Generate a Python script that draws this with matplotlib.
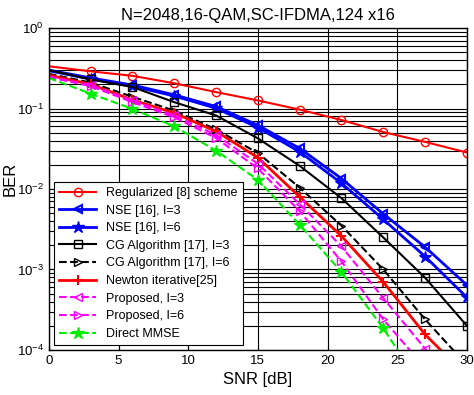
import numpy as np
import matplotlib.pyplot as plt

plt.rcParams['font.family'] = ['Liberation Sans', 'DejaVu Sans']
plt.rcParams['mathtext.fontset'] = 'custom'
plt.rcParams['mathtext.rm'] = 'Liberation Sans'

# 数据
snr = [0, 3, 6, 9, 12, 15, 18, 21, 24, 27, 30]
ber_reg = [0.335, 0.29, 0.255, 0.206, 0.16, 0.126, 0.097, 0.072, 0.051, 0.0385, 0.0284]
ber_nse3 = [0.30, 0.24, 0.196, 0.148, 0.106, 0.062, 0.032, 0.0135, 0.0049, 0.0019, 0.00064]
ber_nse6 = [0.295, 0.232, 0.19, 0.143, 0.101, 0.058, 0.029, 0.0118, 0.0042, 0.00145, 0.00045]
ber_cg3 = [0.30, 0.23, 0.185, 0.12, 0.082, 0.0426, 0.0194, 0.0077, 0.0025, 0.00079, 0.0002]
ber_cg6 = [0.27, 0.21, 0.14, 0.094, 0.055, 0.028, 0.0104, 0.0035, 0.001, 0.00024, 0.000065]
ber_newton = [0.26, 0.2, 0.128, 0.088, 0.052, 0.0246, 0.0080, 0.0026, 0.0007, 0.000156, 0.000047]
ber_prop3 = [0.25, 0.195, 0.126, 0.082, 0.047, 0.0206, 0.0065, 0.00194, 0.00044, 0.000104, 0.00002]
ber_prop6 = [0.245, 0.19, 0.12, 0.078, 0.043, 0.018, 0.0053, 0.00126, 0.00024, 0.00006, 0.00001]
ber_mmse = [0.24, 0.153, 0.099, 0.06, 0.030, 0.013, 0.0036, 0.00093, 0.000186, 0.00003, 0.000005]

fig = plt.figure(figsize=(4.74, 3.95), dpi=100)
ax = fig.add_axes([0.103, 0.114, 0.882, 0.815])

me = slice(1, None)
kw = dict(markevery=me, markersize=6, markerfacecolor='none')
ax.semilogy(snr, ber_reg, 'o-', color='#ff0000', lw=1.5, label='Regularized [8] scheme', **kw)
ax.semilogy(snr, ber_nse3, '<-', color='#0000ff', lw=2, mew=1.5, label='NSE [16], I=3', **kw)
ax.semilogy(snr, ber_nse6, '*-', color='#0000ff', lw=2, markevery=me, markersize=9, label='NSE [16], I=6')
ax.semilogy(snr, ber_cg3, 's-', color='black', lw=1.5, label='CG Algorithm [17], I=3', **kw)
ax.semilogy(snr, ber_cg6, '>--', color='black', lw=1.5, label='CG Algorithm [17], I=6', **kw)
ax.semilogy(snr, ber_newton, '+-', color='#ff0000', lw=2, markevery=me, markersize=7, mew=1.5, label='Newton iterative[25]')
ax.semilogy(snr, ber_prop3, '<--', color='#ff00ff', lw=1.5, label='Proposed, I=3', **kw)
ax.semilogy(snr, ber_prop6, '>--', color='#ff00ff', lw=1.5, label='Proposed, I=6', **kw)
ax.semilogy(snr, ber_mmse, '*--', color='#00ee00', lw=1.5, markevery=me, markersize=9, label='Direct MMSE')

ax.set_xlim(0, 30)
ax.set_ylim(1e-4, 1)
ax.set_xticks([0, 5, 10, 15, 20, 25, 30])
ax.grid(True, which='both', color='black', linestyle='-', linewidth=0.8)
ax.tick_params(which='both', direction='in', labelsize=9.5)
for s in ax.spines.values():
    s.set_linewidth(1)

ax.set_title('N=2048,16-QAM,SC-IFDMA,124 x16', fontsize=12, pad=6)
ax.set_xlabel('SNR [dB]', fontsize=12)
ax.set_ylabel('BER', fontsize=12)
ax.yaxis.set_label_coords(-0.074, 0.53)

leg = ax.legend(loc='lower left', fontsize=9, handlelength=3, labelspacing=0.45,
                borderaxespad=0.4, fancybox=False, framealpha=1, edgecolor='black')
leg.get_frame().set_linewidth(0.8)

plt.savefig('out.png', dpi=100)
